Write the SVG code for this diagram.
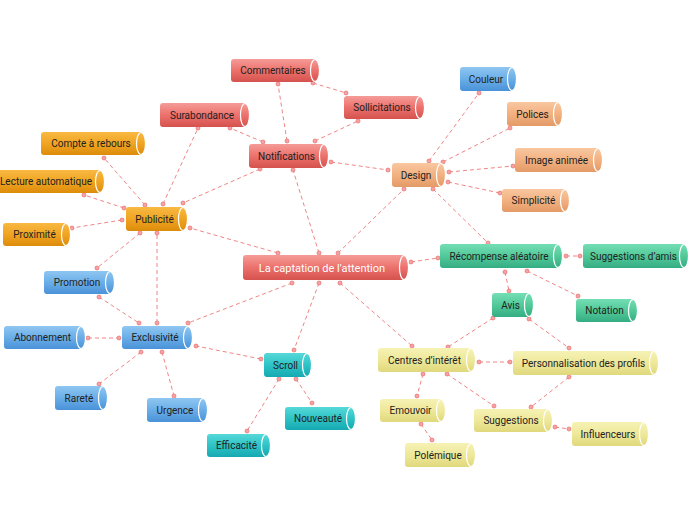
<svg xmlns="http://www.w3.org/2000/svg" width="697" height="520" viewBox="0 0 697 520">
<defs>
<linearGradient id="gRed" x1="0" y1="0" x2="0" y2="1"><stop offset="0" stop-color="#f59c98"/><stop offset="0.5" stop-color="#ec716c"/><stop offset="1" stop-color="#d5524e"/></linearGradient>
<linearGradient id="gTan" x1="0" y1="0" x2="0" y2="1"><stop offset="0" stop-color="#f9c7a0"/><stop offset="0.5" stop-color="#f2b181"/><stop offset="1" stop-color="#e39a66"/></linearGradient>
<linearGradient id="gBlue" x1="0" y1="0" x2="0" y2="1"><stop offset="0" stop-color="#8fc6f1"/><stop offset="0.5" stop-color="#6aaee8"/><stop offset="1" stop-color="#4a92d8"/></linearGradient>
<linearGradient id="gOra" x1="0" y1="0" x2="0" y2="1"><stop offset="0" stop-color="#f8b943"/><stop offset="0.5" stop-color="#f0a422"/><stop offset="1" stop-color="#dc8c0a"/></linearGradient>
<linearGradient id="gGrn" x1="0" y1="0" x2="0" y2="1"><stop offset="0" stop-color="#74deb4"/><stop offset="0.5" stop-color="#52c999"/><stop offset="1" stop-color="#35ad83"/></linearGradient>
<linearGradient id="gYel" x1="0" y1="0" x2="0" y2="1"><stop offset="0" stop-color="#f6f2b4"/><stop offset="0.5" stop-color="#eee89a"/><stop offset="1" stop-color="#e0d87c"/></linearGradient>
<linearGradient id="gTeal" x1="0" y1="0" x2="0" y2="1"><stop offset="0" stop-color="#56d8d8"/><stop offset="0.5" stop-color="#2ec3c6"/><stop offset="1" stop-color="#16a9b2"/></linearGradient>
<marker id="dot" markerUnits="userSpaceOnUse" markerWidth="6" markerHeight="6" refX="3" refY="3" viewBox="0 0 6 6"><circle cx="3" cy="3" r="2" fill="#f5a3a3" stroke="#ea6c6c" stroke-width="0.7"/></marker>
</defs>
<style>
.c line{stroke:#f08585;stroke-width:1;stroke-dasharray:4 3;fill:none;marker-start:url(#dot);marker-end:url(#dot)}
.cap{stroke:#ffffff;stroke-width:1.2}
text{font-family:Roboto,"Liberation Sans",sans-serif;font-size:10px;fill:#222;text-anchor:middle}
.red rect,.red ellipse{fill:url(#gRed)}
.tan rect,.tan ellipse{fill:url(#gTan)}
.blue rect,.blue ellipse{fill:url(#gBlue)}
.ora rect,.ora ellipse{fill:url(#gOra)}
.grn rect,.grn ellipse{fill:url(#gGrn)}
.yel rect,.yel ellipse{fill:url(#gYel)}
.teal rect,.teal ellipse{fill:url(#gTeal)}
#central text{fill:#fff;font-size:11px}
</style>
<rect width="697" height="520" fill="#fff"/>
<g class="c" id="connectors">
<line x1="278" y1="253" x2="190" y2="228"/>
<line x1="319" y1="253" x2="293" y2="170"/>
<line x1="338" y1="253" x2="404" y2="189"/>
<line x1="411" y1="262" x2="438" y2="258"/>
<line x1="340" y1="283" x2="412" y2="346"/>
<line x1="319" y1="283" x2="294" y2="350"/>
<line x1="292" y1="283" x2="188" y2="323"/>
<line x1="260" y1="169" x2="183" y2="203"/>
<line x1="263" y1="142" x2="230" y2="128"/>
<line x1="287" y1="141" x2="278" y2="84"/>
<line x1="315" y1="141" x2="358" y2="121"/>
<line x1="313" y1="83" x2="346" y2="93"/>
<line x1="331" y1="162" x2="388" y2="170"/>
<line x1="429" y1="161" x2="479" y2="93"/>
<line x1="443" y1="162" x2="510" y2="128"/>
<line x1="449" y1="172" x2="513" y2="166"/>
<line x1="448" y1="182" x2="500" y2="193"/>
<line x1="433" y1="189" x2="488" y2="243"/>
<line x1="566" y1="256" x2="580" y2="256"/>
<line x1="505" y1="272" x2="509" y2="291"/>
<line x1="527" y1="271" x2="578" y2="296"/>
<line x1="493" y1="318" x2="448" y2="347"/>
<line x1="529" y1="319" x2="569" y2="348"/>
<line x1="479" y1="362" x2="510" y2="362"/>
<line x1="423" y1="374" x2="417" y2="396"/>
<line x1="447" y1="374" x2="494" y2="406"/>
<line x1="569" y1="377" x2="531" y2="407"/>
<line x1="555" y1="427" x2="569" y2="429"/>
<line x1="421" y1="424" x2="432" y2="440"/>
<line x1="261" y1="359" x2="196" y2="346"/>
<line x1="296" y1="379" x2="312" y2="403"/>
<line x1="279" y1="379" x2="247" y2="431"/>
<line x1="99" y1="297" x2="139" y2="323"/>
<line x1="157" y1="323" x2="157" y2="233"/>
<line x1="88" y1="338" x2="119" y2="338"/>
<line x1="141" y1="352" x2="99" y2="384"/>
<line x1="162" y1="352" x2="174" y2="396"/>
<line x1="145" y1="205" x2="104" y2="158"/>
<line x1="124" y1="208" x2="84" y2="195"/>
<line x1="122" y1="220" x2="72" y2="228"/>
<line x1="163" y1="204" x2="198" y2="128"/>
<line x1="140" y1="233" x2="97" y2="268"/>
</g>
<g id="central" class="red"><rect x="243" y="255" width="162" height="25" rx="3"/><ellipse class="cap" cx="404" cy="267.5" rx="4.5" ry="12"/><text x="322" y="271.5">La captation de l'attention</text></g>
<g id="notifications" class="red"><rect x="249" y="144" width="76" height="24" rx="3"/><ellipse class="cap" cx="324" cy="156" rx="4.5" ry="11.5"/><text x="286.5" y="159.5">Notifications</text></g>
<g id="commentaires" class="red"><rect x="231" y="59" width="85" height="23" rx="3"/><ellipse class="cap" cx="315" cy="70.5" rx="4.5" ry="11"/><text x="273" y="74">Commentaires</text></g>
<g id="sollicitations" class="red"><rect x="344" y="96" width="77" height="23" rx="3"/><ellipse class="cap" cx="420" cy="107.5" rx="4.5" ry="11"/><text x="382" y="111">Sollicitations</text></g>
<g id="surabondance" class="red"><rect x="160" y="103" width="86" height="24" rx="3"/><ellipse class="cap" cx="245" cy="115" rx="4.5" ry="11.5"/><text x="202" y="118.5">Surabondance</text></g>
<g id="design" class="tan"><rect x="392" y="163" width="50" height="24" rx="3"/><ellipse class="cap" cx="441" cy="175" rx="4.5" ry="11.5"/><text x="416" y="178.5">Design</text></g>
<g id="couleur" class="blue"><rect x="460" y="67" width="53" height="24" rx="3"/><ellipse class="cap" cx="512" cy="79" rx="4.5" ry="11.5"/><text x="486" y="82.5">Couleur</text></g>
<g id="polices" class="tan"><rect x="507" y="102" width="52" height="24" rx="3"/><ellipse class="cap" cx="558" cy="114" rx="4.5" ry="11.5"/><text x="532.5" y="117.5">Polices</text></g>
<g id="image-animee" class="tan"><rect x="515" y="148" width="84" height="24" rx="3"/><ellipse class="cap" cx="598" cy="160" rx="4.5" ry="11.5"/><text x="556.5" y="163.5">Image animée</text></g>
<g id="simplicite" class="tan"><rect x="502" y="189" width="64" height="23" rx="3"/><ellipse class="cap" cx="565" cy="200.5" rx="4.5" ry="11"/><text x="533.5" y="204">Simplicité</text></g>
<g id="recompense" class="grn"><rect x="440" y="244" width="119" height="24" rx="3"/><ellipse class="cap" cx="558" cy="256" rx="4.5" ry="11.5"/><text x="499" y="259.5">Récompense aléatoire</text></g>
<g id="suggestions-amis" class="grn"><rect x="583" y="244" width="102" height="24" rx="3"/><ellipse class="cap" cx="684" cy="256" rx="4.5" ry="11.5"/><text x="633.5" y="259.5">Suggestions d’amis</text></g>
<g id="avis" class="grn"><rect x="492" y="293" width="38" height="24" rx="3"/><ellipse class="cap" cx="529" cy="305" rx="4.5" ry="11.5"/><text x="510.5" y="308.5">Avis</text></g>
<g id="notation" class="grn"><rect x="576" y="299" width="58" height="23" rx="3"/><ellipse class="cap" cx="633" cy="310.5" rx="4.5" ry="11"/><text x="604.5" y="314">Notation</text></g>
<g id="centres" class="yel"><rect x="378" y="348" width="94" height="24" rx="3"/><ellipse class="cap" cx="471" cy="360" rx="4.5" ry="11.5"/><text x="424.5" y="363.5">Centres d’intérêt</text></g>
<g id="personnalisation" class="yel"><rect x="513" y="351" width="142" height="24" rx="3"/><ellipse class="cap" cx="654" cy="363" rx="4.5" ry="11.5"/><text x="583.5" y="366.5">Personnalisation des profils</text></g>
<g id="emouvoir" class="yel"><rect x="380" y="399" width="62" height="23" rx="3"/><ellipse class="cap" cx="441" cy="410.5" rx="4.5" ry="11"/><text x="410.5" y="414">Emouvoir</text></g>
<g id="suggestions" class="yel"><rect x="474" y="409" width="75" height="23" rx="3"/><ellipse class="cap" cx="548" cy="420.5" rx="4.5" ry="11"/><text x="511" y="424">Suggestions</text></g>
<g id="influenceurs" class="yel"><rect x="572" y="422" width="73" height="24" rx="3"/><ellipse class="cap" cx="644" cy="434" rx="4.5" ry="11.5"/><text x="608" y="437.5">Influenceurs</text></g>
<g id="polemique" class="yel"><rect x="405" y="443" width="67" height="24" rx="3"/><ellipse class="cap" cx="471" cy="455" rx="4.5" ry="11.5"/><text x="438" y="458.5">Polémique</text></g>
<g id="promotion" class="blue"><rect x="44" y="271" width="67" height="23" rx="3"/><ellipse class="cap" cx="110" cy="282.5" rx="4.5" ry="11"/><text x="77" y="286">Promotion</text></g>
<g id="abonnement" class="blue"><rect x="4" y="326" width="78" height="23" rx="3"/><ellipse class="cap" cx="81" cy="337.5" rx="4.5" ry="11"/><text x="42.5" y="341">Abonnement</text></g>
<g id="exclusivite" class="blue"><rect x="122" y="326" width="67" height="23" rx="3"/><ellipse class="cap" cx="188" cy="337.5" rx="4.5" ry="11"/><text x="155" y="341">Exclusivité</text></g>
<g id="rarete" class="blue"><rect x="55" y="386" width="49" height="24" rx="3"/><ellipse class="cap" cx="103" cy="398" rx="4.5" ry="11.5"/><text x="79" y="401.5">Rareté</text></g>
<g id="urgence" class="blue"><rect x="147" y="398" width="57" height="24" rx="3"/><ellipse class="cap" cx="203" cy="410" rx="4.5" ry="11.5"/><text x="175" y="413.5">Urgence</text></g>
<g id="scroll" class="teal"><rect x="264" y="353" width="44" height="24" rx="3"/><ellipse class="cap" cx="307" cy="365" rx="4.5" ry="11.5"/><text x="285.5" y="368.5">Scroll</text></g>
<g id="nouveaute" class="teal"><rect x="285" y="407" width="67" height="23" rx="3"/><ellipse class="cap" cx="351" cy="418.5" rx="4.5" ry="11"/><text x="318" y="422">Nouveauté</text></g>
<g id="efficacite" class="teal"><rect x="207" y="434" width="60" height="23" rx="3"/><ellipse class="cap" cx="266" cy="445.5" rx="4.5" ry="11"/><text x="236.5" y="449">Efficacité</text></g>
<g id="publicite" class="ora"><rect x="126" y="207" width="58" height="24" rx="3"/><ellipse class="cap" cx="183" cy="219" rx="4.5" ry="11.5"/><text x="154.5" y="222.5">Publicité</text></g>
<g id="compte" class="ora"><rect x="41" y="132" width="101" height="23" rx="3"/><ellipse class="cap" cx="141" cy="143.5" rx="4.5" ry="11"/><text x="91" y="147">Compte à rebours</text></g>
<g id="lecture" class="ora"><rect x="-8" y="170" width="109" height="23" rx="3"/><ellipse class="cap" cx="100" cy="181.5" rx="4.5" ry="11"/><text x="46" y="185">Lecture automatique</text></g>
<g id="proximite" class="ora"><rect x="3" y="223" width="64" height="23" rx="3"/><ellipse class="cap" cx="66" cy="234.5" rx="4.5" ry="11"/><text x="34.5" y="238">Proximité</text></g>
</svg>
